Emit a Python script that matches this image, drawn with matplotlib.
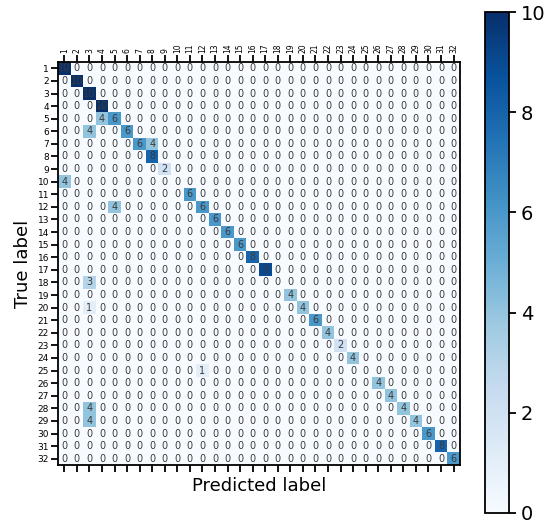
import numpy as np
import matplotlib
matplotlib.use("Agg")
import matplotlib.pyplot as plt

n_classes = 32
labels = [str(i) for i in range(1, n_classes + 1)]

# (true, predicted, count) entries, 1-based
entries = [
    (1, 1, 10), (2, 2, 10), (3, 3, 10), (4, 4, 10),
    (5, 4, 4), (5, 5, 6), (6, 3, 4), (6, 6, 6),
    (7, 7, 6), (7, 8, 4), (8, 8, 8), (9, 9, 2),
    (10, 1, 4), (11, 11, 6), (12, 5, 4), (12, 12, 6),
    (13, 13, 6), (14, 14, 6), (15, 15, 6), (16, 16, 8),
    (17, 17, 9), (18, 3, 3), (19, 19, 4), (20, 3, 1),
    (20, 20, 4), (21, 21, 6), (22, 22, 4), (23, 23, 2),
    (24, 24, 4), (25, 12, 1), (26, 26, 4), (27, 27, 4),
    (28, 3, 4), (28, 28, 4), (29, 3, 4), (29, 29, 4),
    (30, 30, 6), (31, 31, 8), (32, 32, 6),
]

cm = np.zeros((n_classes, n_classes), dtype=int)
for t, p, c in entries:
    cm[t - 1, p - 1] = c

fig = plt.figure(figsize=(5.5, 5.24), dpi=100)
ax = fig.add_axes([0.1055, 0.1126, 0.7305, 0.769])
cax = fig.add_axes([0.882, 0.021, 0.0436, 0.956])

im = ax.imshow(cm, cmap="Blues", vmin=0, vmax=10, aspect="auto", interpolation="nearest")

for i in range(n_classes):
    for j in range(n_classes):
        ax.text(j, i, str(cm[i, j]), ha="center", va="center", fontsize=7, color="#3a3a3a")

ax.set_xticks(range(n_classes))
ax.set_yticks(range(n_classes))
ax.set_xticklabels(labels, rotation=90, fontsize=5.5)
ax.set_yticklabels(labels, fontsize=6.5)
ax.tick_params(axis="x", top=True, labeltop=True, bottom=True, labelbottom=False, width=1.3, length=5, pad=1.5)
ax.tick_params(axis="y", width=1.3, length=5, pad=1.5)
for s in ax.spines.values():
    s.set_linewidth(1.3)

ax.set_xlabel("Predicted label", fontsize=13)
ax.set_ylabel("True label", fontsize=13, labelpad=4)
ax.xaxis.set_label_position("bottom")

cb = fig.colorbar(im, cax=cax)
cb.set_ticks([0, 2, 4, 6, 8, 10])
cb.ax.tick_params(labelsize=14, width=1.3, length=5)
cb.outline.set_linewidth(1.3)

fig.savefig("out.png", dpi=100)
